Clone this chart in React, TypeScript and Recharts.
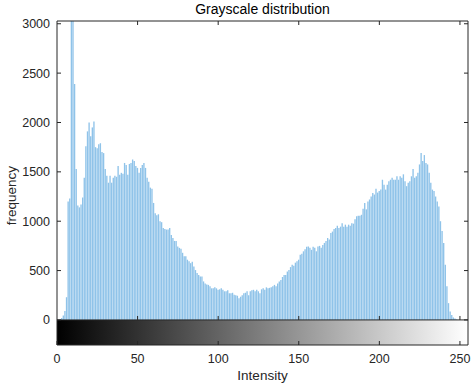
import React from 'react';
import { BarChart, Bar, XAxis, YAxis, ReferenceArea, ReferenceLine, Label } from 'recharts';

// Histogram counts for intensity bins 0..255
const counts: number[] = [
  0, 0, 5, 20, 45, 90, 230, 1200, 1230, 4300,
  3600, 2390, 1530, 1160, 1140, 1170, 1240, 1440, 1760, 1910,
  2000, 1860, 1950, 2010, 1750, 1740, 1780, 1790, 1700, 1690,
  1530, 1460, 1390, 1460, 1390, 1440, 1460, 1450, 1560, 1470,
  1490, 1480, 1590, 1570, 1470, 1580, 1590, 1625, 1610, 1560,
  1540, 1490, 1540, 1570, 1590, 1540, 1440, 1400, 1340, 1330,
  1185, 1080, 1060, 1070, 1000, 990, 930, 920, 915, 915,
  930, 860, 830, 800, 800, 745, 730, 720, 680, 645,
  645, 610, 595, 575, 590, 540, 505, 475, 455, 440,
  440, 390, 370, 360, 355, 340, 320, 320, 330, 320,
  305, 310, 320, 305, 290, 290, 300, 270, 270, 275,
  255, 250, 245, 220, 235, 250, 270, 275, 290, 250,
  290, 300, 305, 290, 305, 290, 270, 310, 320, 305,
  330, 320, 325, 330, 340, 355, 340, 370, 390, 405,
  435, 455, 455, 490, 505, 535, 560, 550, 580, 595,
  610, 660, 670, 695, 715, 740, 745, 730, 710, 740,
  730, 695, 745, 750, 730, 760, 780, 800, 830, 815,
  880, 895, 920, 930, 955, 930, 945, 980, 945, 965,
  945, 965, 955, 980, 975, 1020, 1050, 1055, 1055, 1065,
  1125, 1185, 1120, 1200, 1220, 1250, 1285, 1270, 1330, 1290,
  1305, 1320, 1420, 1370, 1320, 1370, 1405, 1420, 1440, 1420,
  1420, 1455, 1420, 1455, 1440, 1475, 1405, 1355, 1390, 1405,
  1455, 1530, 1440, 1455, 1490, 1575, 1690, 1610, 1670, 1590,
  1575, 1490, 1390, 1320, 1305, 1250, 1200, 1150, 1000, 900,
  780, 560, 340, 170, 85, 50, 25, 15, 5, 0,
  0, 0, 0, 0, 0, 0,
];

const xTicks = [0, 50, 100, 150, 200, 250];
const yTicks = [0, 500, 1000, 1500, 2000, 2500, 3000];
const innerXTicks = [50, 100, 150, 200, 250];

const data = counts.map((count, intensity) => ({ intensity, count }));

const X_DOMAIN: [number, number] = [0, 255];
const Y_DOMAIN: [number, number] = [-254, 3028];
const COLORBAR_BOTTOM = -254;
const TICK_LEN_VALUE = 40;

const AXIS = '#262626';
const FONT = '"Liberation Sans", Arial, Helvetica, sans-serif';

const BottomTick = (props: any) => {
  const { x, y, payload } = props;
  const ay = y - 9;
  return (
    <g>
      <line x1={x} y1={ay} x2={x} y2={ay - 4} stroke={AXIS} strokeWidth={1} />
      <text x={x} y={y} dy="0.71em" textAnchor="middle" fontSize={12.5} fill={AXIS} fontFamily={FONT}>
        {payload.value}
      </text>
    </g>
  );
};

const TopTick = (props: any) => {
  const { x, y } = props;
  // tickMargin 0, tickSize 0: y is the axis line position
  return <line x1={x} y1={y} x2={x} y2={y + 4} stroke={AXIS} strokeWidth={1} />;
};

const LeftTick = (props: any) => {
  const { x, y, payload } = props;
  const ax = x + 7;
  return (
    <g>
      <line x1={ax} y1={y} x2={ax + 4} y2={y} stroke={AXIS} strokeWidth={1} />
      <text x={x} y={y} dy="0.355em" textAnchor="end" fontSize={12.5} fill={AXIS} fontFamily={FONT}>
        {payload.value}
      </text>
    </g>
  );
};

const RightTick = (props: any) => {
  const { x, y } = props;
  return <line x1={x} y1={y} x2={x - 4} y2={y} stroke={AXIS} strokeWidth={1} />;
};

export default function App() {
  return (
    <div style={{ position: 'absolute', left: 0, top: 0, background: '#fff' }}>
      <BarChart
        width={474}
        height={386}
        data={data}
        margin={{ top: 21, right: 6, bottom: 0, left: 0 }}
        barCategoryGap={0}
      >
        <defs>
          <linearGradient id="grayRamp" x1="0" y1="0" x2="1" y2="0">
            <stop offset="0" stopColor="#000000" />
            <stop offset="1" stopColor="#ffffff" />
          </linearGradient>
        </defs>
        <XAxis
          dataKey="intensity"
          type="number"
          domain={X_DOMAIN}
          ticks={xTicks}
          height={41}
          tickSize={0}
          tickMargin={9}
          tickLine={false}
          tick={<BottomTick />}
          axisLine={{ stroke: AXIS }}
          allowDataOverflow
        >
          <Label
            value="Intensity"
            position="insideBottom"
            offset={6}
            fontSize={13.5}
            fill={AXIS}
            fontFamily={FONT}
          />
        </XAxis>
        <XAxis
          xAxisId="top"
          dataKey="intensity"
          type="number"
          orientation="top"
          mirror
          domain={X_DOMAIN}
          ticks={innerXTicks}
          height={1}
          tickSize={0}
          tickMargin={0}
          tickLine={false}
          tick={<TopTick />}
          axisLine={{ stroke: AXIS }}
          allowDataOverflow
        >
          <Label
            value="Grayscale distribution"
            position="top"
            offset={7}
            fontSize={14}
            fill="#000"
            fontFamily={FONT}
          />
        </XAxis>
        <YAxis
          type="number"
          domain={Y_DOMAIN}
          ticks={yTicks}
          width={57}
          tickSize={0}
          tickMargin={7}
          tickLine={false}
          tick={<LeftTick />}
          axisLine={{ stroke: AXIS }}
          allowDataOverflow
          interval={0}
        >
          <Label
            content={(p: any) => {
              const vb = p.viewBox || {};
              const frac = (Y_DOMAIN[1] - Y_DOMAIN[1] / 2) / (Y_DOMAIN[1] - Y_DOMAIN[0]);
              const cy = vb.y + vb.height * (1 - frac);
              const cx = 11;
              return (
                <text
                  x={cx}
                  y={cy}
                  transform={`rotate(-90 ${cx} ${cy})`}
                  textAnchor="middle"
                  dy="0.355em"
                  fontSize={13.5}
                  fill={AXIS}
                  fontFamily={FONT}
                >
                  frequency
                </text>
              );
            }}
          />
        </YAxis>
        <YAxis
          yAxisId="right"
          orientation="right"
          mirror
          type="number"
          domain={Y_DOMAIN}
          ticks={yTicks}
          width={1}
          tickSize={0}
          tickMargin={0}
          tickLine={false}
          tick={<RightTick />}
          axisLine={{ stroke: AXIS }}
          allowDataOverflow
          interval={0}
        />
        <ReferenceArea
          x1={X_DOMAIN[0]}
          x2={X_DOMAIN[1]}
          y1={COLORBAR_BOTTOM}
          y2={0}
          fill="url(#grayRamp)"
          fillOpacity={1}
          stroke="none"
          ifOverflow="visible"
        />
        <Bar dataKey="count" fill="#8fc3e9" barSize={1.35} isAnimationActive={false} />
        <ReferenceLine y={0} stroke={AXIS} strokeWidth={1} ifOverflow="visible" />
        {innerXTicks.map((t) => (
          <ReferenceLine
            key={t}
            segment={[{ x: t, y: 0 }, { x: t, y: TICK_LEN_VALUE }]}
            stroke={AXIS}
            strokeWidth={1}
            ifOverflow="visible"
          />
        ))}
      </BarChart>
    </div>
  );
}
